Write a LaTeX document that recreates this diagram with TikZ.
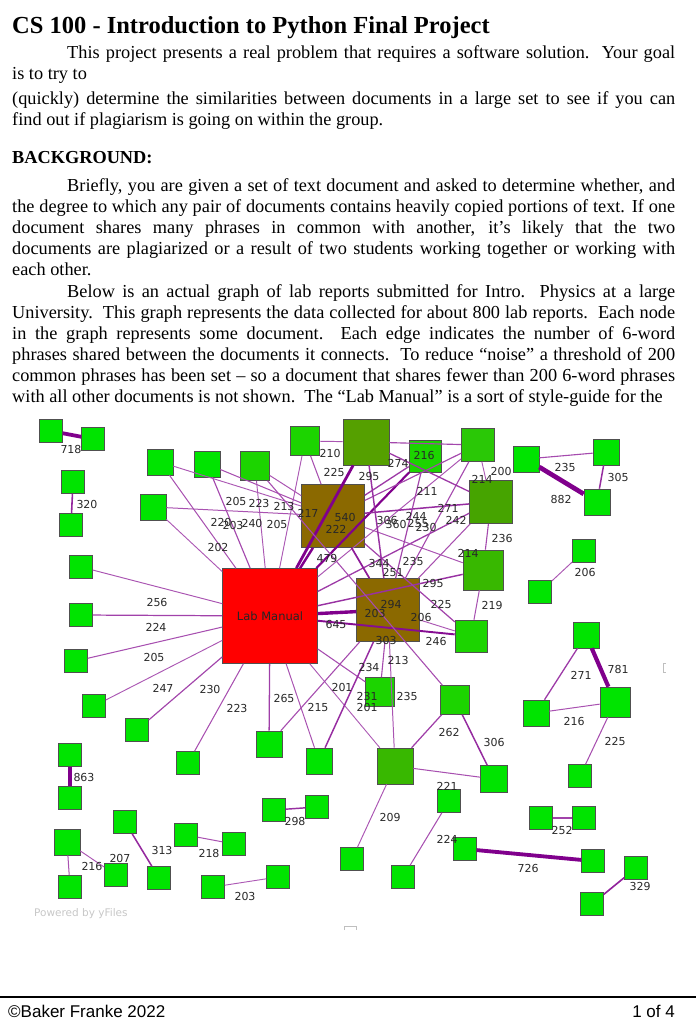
\documentclass[tikz,border=0pt]{standalone}
\usepackage{fontspec}
\setmainfont{Liberation Serif}
\newfontfamily\yfont{DejaVu Sans}
\newfontfamily\arialfont{Liberation Sans}
\usetikzlibrary{positioning}

\definecolor{docgreen}{RGB}{0,228,0}
\definecolor{greenA}{RGB}{28,212,0}
\definecolor{greenB}{RGB}{85,160,0}
\definecolor{greenC}{RGB}{42,200,6}
\definecolor{greenD}{RGB}{70,164,0}
\definecolor{greenE}{RGB}{56,184,0}
\definecolor{docbrown}{RGB}{139,105,0}
\definecolor{labred}{RGB}{255,0,0}
\definecolor{docborder}{RGB}{80,80,80}
\definecolor{edgepurple}{RGB}{128,0,140}
\definecolor{labelgray}{RGB}{40,40,40}

\tikzset{
  doc/.style={rectangle, draw=docborder, line width=0.6pt, fill=docgreen, minimum size=#1, inner sep=0pt},
  doc/.default=23,
  elabel/.style={font=\yfont\fontsize{11}{11}\selectfont, text=labelgray, inner sep=0pt},
  bodytext/.style={font=\fontsize{18.3}{21}\selectfont, text width=663pt, align=justify, inner sep=0pt, anchor=base west},
  headtext/.style={font=\bfseries, inner sep=0pt, anchor=base west},
}

\begin{document}
\begin{tikzpicture}[x=1pt, y=-1pt]
\useasboundingbox (0,0) rectangle (696,1024);

% page text
\node[headtext, font=\bfseries\fontsize{24.5}{28}\selectfont] (title) at (12,34) {CS 100 - Introduction to Python Final Project};
\node[bodytext] (intro) at (12,59) {\hspace*{55pt}This project presents a real problem that requires a software solution.\ \ Your goal\linebreak is to try to};
\node[bodytext] (goal) at (12,105) {(quickly) determine the similarities between documents in a large set to see if you can\linebreak find out if plagiarism is going on within the group.};
\node[headtext, font=\bfseries\fontsize{18.3}{21}\selectfont] (background) at (12,164) {BACKGROUND:};
\node[bodytext] (briefly) at (12,192) {\hspace*{55pt}Briefly, you are given a set of text document and asked to determine whether, and\linebreak the degree to which any pair of documents contains heavily copied portions of text. If one\linebreak document shares many phrases in common with another, it’s likely that the two\linebreak documents are plagiarized or a result of two students working together or working with\linebreak each other.};
\node[bodytext] (below) at (12,297) {\parfillskip=0pt\hspace*{55pt}Below is an actual graph of lab reports submitted for Intro. Physics at a large\linebreak University.\ \ This graph represents the data collected for about 800 lab reports.\ \ Each node\linebreak in the graph represents some document.\ \ Each edge indicates the number of 6-word\linebreak phrases shared between the documents it connects.\ \ To reduce “noise” a threshold of 200\linebreak common phrases has been set – so a document that shares fewer than 200 6-word phrases\linebreak with all other documents is not shown.\ \ The “Lab Manual” is a sort of style-guide for the};

% documents
\foreach \n/\x/\y/\s/\c in {
  d1/51/431/23/docgreen, d2/93/439/23/docgreen, d3/73/482/23/docgreen, d4/71/525/23/docgreen,
  d5/160/462/26/docgreen, d6/207/464/26/docgreen, d7/153/507/26/docgreen, d8/81/567/23/docgreen,
  d9/305/441/29/greenA, d10/366/442/46/greenB, d11/425/456/32/greenA, d12/255/466/29/greenA,
  d14/478/445/33/greenC, d15/491/502/43/greenD, d16/526/459/26/docgreen, d17/606/452/26/docgreen,
  d18/597/502/26/docgreen, d19/483/570/40/greenE, d20/584/551/23/docgreen, d21/540/592/23/docgreen,
  d22/471/636/32/greenA, d23/586/635/26/docgreen, d24/615/702/30/docgreen, d25/536/713/26/docgreen,
  d26/580/776/23/docgreen, d27/455/700/29/greenA, d28/494/779/27/docgreen, d29/541/818/23/docgreen,
  d30/584/818/23/docgreen, d31/465/849/23/docgreen, d32/593/861/23/docgreen, d33/636/868/23/docgreen,
  d34/592/904/23/docgreen, d35/269/744/26/docgreen, d36/319/761/26/docgreen, d37/395/766/36/greenE,
  d38/274/810/23/docgreen, d39/317/807/23/docgreen, d40/449/801/23/docgreen, d41/403/877/23/docgreen,
  d42/352/859/23/docgreen, d43/278/877/23/docgreen, d44/213/887/23/docgreen, d45/234/844/23/docgreen,
  d46/70/755/23/docgreen, d47/70/798/23/docgreen, d48/188/763/23/docgreen, d49/125/822/23/docgreen,
  d50/67/842/26/docgreen, d51/70/887/23/docgreen, d52/116/875/23/docgreen, d53/159/878/23/docgreen,
  d54/186/835/23/docgreen, d55/81/615/23/docgreen, d56/76/661/23/docgreen, d57/94/706/23/docgreen,
  d58/137/730/23/docgreen, d60/380/692/29/greenA, bA/333/516/63/docbrown, bB/388/610/63/docbrown}
  \node[doc=\s, fill=\c] (\n) at (\x,\y) {};
\node[doc=95, fill=labred, font=\yfont\fontsize{11.5}{11.5}\selectfont, text=black!85] (lab) at (270,616) {Lab Manual};

% shared phrases
\foreach \p/\q/\w in {
  d1/d2/718, d3/d4/320, d46/d47/863, d49/d53/313, d50/d51/216, d50/d52/207, d54/d45/218,
  d43/d44/203, d38/d39/298, d37/d42/209, d40/d41/224, d37/d28/221, d27/d28/306, d27/d37/262,
  d31/d32/726, d33/d34/329, d29/d30/252, d24/d26/225, d23/d24/781, d23/d25/271, d25/d24/216,
  d20/d21/206, d16/d18/882, d16/d17/235, d17/d18/305, d14/d15/200, d15/d19/236, d19/d22/219,
  lab/d5/220, lab/d6/240, lab/d7/202, lab/d8/210, lab/d9/205, lab/d10/540, lab/d11/420,
  lab/d12/205, lab/d55/256, lab/d56/224, lab/d57/205, lab/d58/247, lab/d48/223, lab/d35/265,
  lab/d36/215, lab/d37/201, lab/d60/230, lab/bA/479, lab/bB/645, lab/d14/211, lab/d15/271,
  lab/d19/295, lab/d22/380,
  bA/d5/205, bA/d6/223, bA/d7/217, bA/d12/213, bA/d9/225, bA/d11/274, bA/d14/242, bA/d15/306,
  bA/d19/214, bA/bB/344, bA/d22/255,
  bB/d10/295, bB/d11/251, bB/d14/235, bB/d15/225, bB/d22/206, bB/d35/234, bB/d36/303,
  bB/d37/213, bB/d60/235,
  d9/d10/210, d10/d14/244, d10/d15/274, d12/d27/230}
{
  \pgfmathsetmacro\lw{\w/180-0.2}
  \pgfmathsetmacro\pc{min(100,65+(\w-200)/6)}
  \draw[line width=\lw pt, draw=edgepurple!\pc!white] (\p) -- (\q);
}

% edge labels
\foreach \x/\y/\t [count=\i] in {
  71/449/718, 87/504/320, 236/501/205, 259/503/223, 284/506/213, 308/513/217,
  221/522/220, 233/525/203, 252/523/240, 277/524/205, 218/547/202,
  330/453/210, 334/472/225, 369/476/295, 398/463/274, 424/455/216, 427/491/211,
  345/517/540, 336/529/222, 327/558/479, 387/520/306, 396/524/360, 416/516/244,
  418/523/255, 426/527/230, 448/508/271, 456/520/242, 379/563/344, 413/561/235,
  393/572/251, 482/479/214, 501/471/200, 502/538/236, 468/553/214,
  565/467/235, 561/499/882, 618/477/305, 585/572/206, 492/605/219, 618/669/781,
  581/675/271, 574/721/216, 615/741/225, 494/742/306,
  433/583/295, 441/604/225, 421/617/206, 391/604/294, 375/613/203, 336/624/645,
  386/640/303, 436/641/246, 369/667/234, 398/660/213, 342/687/201, 367/696/231,
  367/707/201, 407/696/235, 284/698/265, 318/707/215, 449/732/262, 237/708/223,
  157/602/256, 156/627/224, 154/657/205, 163/688/247, 210/689/230,
  84/777/863, 162/850/313, 209/853/218, 120/858/207, 92/866/216, 245/896/203,
  295/821/298, 390/817/209, 447/786/221, 447/839/224, 562/830/252, 528/868/726,
  640/886/329}
  \node[elabel] (lbl\i) at (\x,\y) {\t};

\node[anchor=west, inner sep=0pt, font=\yfont\fontsize{10.5}{10.5}\selectfont, text=black!22] (yfiles) at (34,914) {Powered by yFiles};
% view handles
\draw[black!25, line width=0.8pt] (666,663) -- (663,663) -- (663,672) -- (666,672);
\draw[black!25, line width=0.8pt] (344,930) -- (344,926) -- (356,926) -- (356,930);

% footer
\draw[line width=1.3pt] (0,997) -- (696,997);
\node[anchor=base west, inner sep=0pt, font=\arialfont\fontsize{17}{17}\selectfont] (copyright) at (8,1017) {©Baker Franke 2022};
\node[anchor=base east, inner sep=0pt, font=\arialfont\fontsize{17}{17}\selectfont] (pageno) at (675,1017) {1 of 4};
\end{tikzpicture}
\end{document}
